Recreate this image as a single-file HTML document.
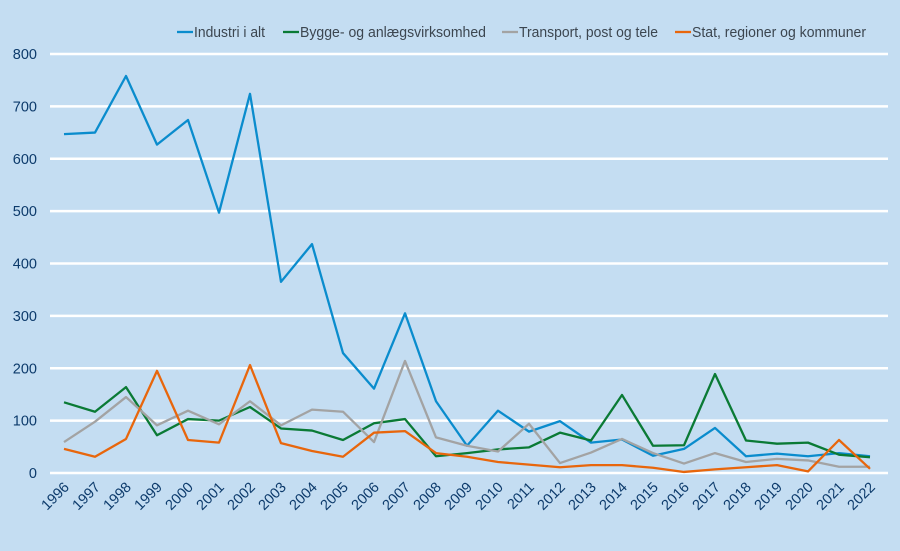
<!DOCTYPE html>
<html><head><meta charset="utf-8"><style>
html,body{margin:0;padding:0;background:#c4ddf2;}
svg{display:block;font-family:"Liberation Sans",sans-serif;}
</style></head><body>
<svg id="chart" width="900" height="551">
<rect width="900" height="551" fill="#c4ddf2"/>
<g id="grid"></g><g id="yt"></g><g id="xt"></g><g id="lines"></g><g id="legend"></g>
</svg>
<script>
const years=[1996,1997,1998,1999,2000,2001,2002,2003,2004,2005,2006,2007,2008,2009,2010,2011,2012,2013,2014,2015,2016,2017,2018,2019,2020,2021,2022];
const industri=[647,650,758,627,674,497,724,365,437,229,161,305,137,52,119,79,99,58,64,33,46,86,32,37,32,38,32];
const bygge=[135,117,164,72,103,100,126,85,81,63,95,103,32,38,45,49,77,62,149,52,53,189,62,56,58,35,30];
const transport=[59,98,145,91,119,93,137,91,121,117,59,214,68,52,41,94,19,39,65,38,18,38,21,27,24,12,12];
const stat=[46,31,65,195,63,58,206,57,42,31,77,80,38,31,21,16,11,15,15,10,2,7,11,15,3,63,8];
const yTicks=[0,100,200,300,400,500,600,700,800];
const seriesNames=["Industri i alt","Bygge- og anlægsvirksomhed","Transport, post og tele","Stat, regioner og kommuner"];
const colors=["#0a8ccd","#0a7a35","#a3a3a3","#e8660c"];
const NS="http://www.w3.org/2000/svg";
const x0=64,x1=870,yb=473,yt=54;
const X=i=>x0+(x1-x0)*i/(years.length-1);
const Y=v=>yb-(yb-yt)*v/800;
function mk(t,a,p){const e=document.createElementNS(NS,t);for(const k in a)e.setAttribute(k,a[k]);p.appendChild(e);return e;}
const g=document.getElementById('grid'),yg=document.getElementById('yt'),xg=document.getElementById('xt'),lg=document.getElementById('lines'),leg=document.getElementById('legend');
yTicks.forEach(v=>{
 const l=mk('line',{x1:50,x2:888,y1:Y(v),y2:Y(v),stroke:'#fff','stroke-width':2.5},g);
 
 
 const t=mk('text',{x:37,y:Y(v)+5,'text-anchor':'end','font-size':14.5,fill:'#0c3a6b'},yg);t.textContent=v;
 
 
});
years.forEach((yr,i)=>{
 const t=mk('text',{x:X(i)+6,y:488,'text-anchor':'end','font-size':14.5,fill:'#0c3a6b',transform:`rotate(-45 ${X(i)+6} 488)`},xg);t.textContent=yr;
 
 
});
[industri,bygge,transport,stat].forEach((s,k)=>{
 const p=mk('polyline',{points:s.map((v,i)=>X(i)+','+Y(v)).join(' '),fill:'none',stroke:colors[k],'stroke-width':2.3,'stroke-linejoin':'round'},lg);
 
 
});
const lx=[177,283,502,675];
const lw=[71,186,139,174];
seriesNames.forEach((n,k)=>{
 const gg=mk('g',{},leg);
 
 
 mk('line',{x1:lx[k],x2:lx[k]+16,y1:32,y2:32,stroke:colors[k],'stroke-width':2.3},gg);
 const t=mk('text',{x:lx[k]+17,y:37,'font-size':14.5,fill:'#3c4650',textLength:lw[k],lengthAdjust:'spacingAndGlyphs'},gg);t.textContent=n;
});
</script>
</body></html>
